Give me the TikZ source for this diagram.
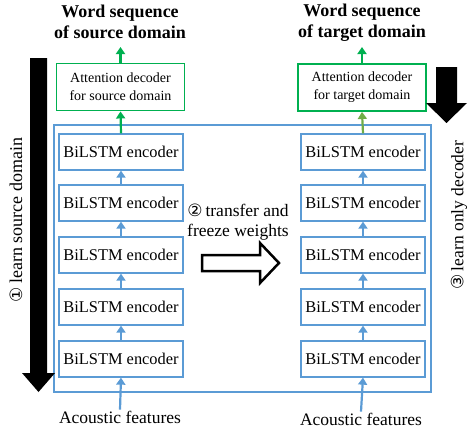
\documentclass[tikz,border=0pt]{standalone}
\usepackage{fontspec}
\setmainfont{Liberation Serif}
\newfontfamily\circfont{DejaVu Sans}
\usetikzlibrary{arrows.meta}
\definecolor{encblue}{HTML}{5B9BD5}
\definecolor{decgreen}{HTML}{00B050}
\definecolor{olivegrn}{HTML}{70AD47}
\tikzset{
  enc/.style={draw=encblue, line width=1.3pt, minimum width=124pt, minimum height=36pt, inner sep=0pt, font=\fontsize{16.4}{18}\selectfont},
  dec/.style={draw=decgreen, line width=1.9pt, minimum width=128pt, minimum height=47pt, inner sep=0pt, align=center, font=\fontsize{14}{18}\selectfont},
  title/.style={align=center, font=\fontsize{18}{21}\selectfont\bfseries},
  lbl/.style={font=\fontsize{17.5}{20.5}\selectfont, inner sep=1pt},
  rlbl/.style={font=\fontsize{18}{20.5}\selectfont, inner sep=1pt, rotate=90},
  bluearr/.style={draw=encblue, line width=2.2pt, -{Triangle[width=9pt,length=7pt]}},
  greenarr/.style={draw=decgreen, line width=2.2pt, -{Triangle[width=9pt,length=7pt]}},
  olivearr/.style={draw=olivegrn, line width=2.2pt, -{Triangle[width=9pt,length=7pt]}},
  bigarrow/.style={fill=black, draw=none},
}
\begin{document}
\begin{tikzpicture}[x=1pt,y=-1pt]
\useasboundingbox (0,0) rectangle (474,431);
% frame
\draw[encblue, line width=1.3pt] (54,125) rectangle (431,392);
% left column
\node[title] (t1) at (120,22) {Word sequence\\of source domain};
\node[dec] (d1) at (120.5,87) {Attention decoder\\for source domain};
\foreach \i/\y in {1/152,2/203,3/255,4/307,5/359}{
  \node[enc] (a\i) at (121,\y) {BiLSTM encoder};
}
\node[lbl] (f1) at (120,417) {Acoustic features};
% right column
\node[title] (t2) at (362,23) {Word sequence\\of target domain};
\node[dec] (d2) at (362,87.5) {Attention decoder\\for target domain};
\foreach \i/\y in {1/152,2/203,3/255,4/307,5/359}{
  \node[enc] (b\i) at (363,\y) {BiLSTM encoder};
}
\node[lbl] (f2) at (361,419) {Acoustic features};
% arrows
\coordinate (e1) at (120.5,47);
\coordinate (e2) at (362,47);
\draw[greenarr] (d1.north) -- (e1);
\draw[greenarr] (d2.north) -- (e2);
\draw[greenarr] (a1.north) -- (d1.south);
\draw[olivearr] (b1.north) -- (d2.south);
\foreach \i/\j in {2/1,3/2,4/3,5/4}{
  \draw[bluearr] (a\i.north) -- (a\j.south);
  \draw[bluearr] (b\i.north) -- (b\j.south);
}
\draw[bluearr] (f1.north) -- (a5.south);
\draw[bluearr] (f2.north) -- (b5.south);
% big black arrows
\fill[bigarrow] (30,58) -- (47,58) -- (47,373) -- (55,373) -- (38.5,392) -- (22,373) -- (30,373) -- cycle;
\fill[bigarrow] (436,67) -- (457,67) -- (457,103) -- (467,103) -- (446.5,123) -- (426,103) -- (436,103) -- cycle;
% hollow transfer arrow
\draw[black, line width=2.5pt, fill=white, line join=miter] (202,255) -- (260,255) -- (260,243) -- (279,263) -- (260,283) -- (260,271) -- (202,271) -- cycle;
% labels
\node[rlbl] (l1) at (16,220) {{\circfont\fontsize{17}{17}\selectfont ①}\,learn source domain};
\node[rlbl, font=\fontsize{17.5}{20.5}\selectfont] (l3) at (459,215) {{\circfont\fontsize{17}{17}\selectfont ③}\,learn only decoder};
\node[lbl, align=center] (l2) at (238,222) {{\circfont\fontsize{17}{17}\selectfont ②}\,transfer and\\freeze weights};
\end{tikzpicture}
\end{document}
